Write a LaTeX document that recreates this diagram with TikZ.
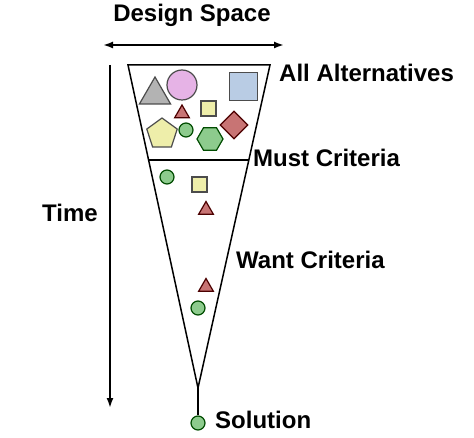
\documentclass[tikz,border=0pt]{standalone}
\usepackage{fontspec}
\setmainfont{Liberation Sans}
\usetikzlibrary{shapes.geometric,arrows.meta}
\definecolor{altgray}{HTML}{B3B3B3}
\definecolor{altpink}{HTML}{E6B3E6}
\definecolor{altblue}{HTML}{B9CCE4}
\definecolor{altred}{HTML}{C87474}
\definecolor{altyellow}{HTML}{EEEEAA}
\definecolor{altgreen}{HTML}{8DCB8D}
\tikzset{
  lbl/.style={font=\bfseries\fontsize{24}{28}\selectfont, inner sep=0pt},
  alt/.style={draw=black!70, line width=1.2pt, inner sep=0pt},
  grn/.style={alt, circle, fill=altgreen, draw=green!30!black, minimum size=14pt},
  red/.style={alt, regular polygon, regular polygon sides=3, fill=altred, draw=red!30!black, minimum size=17pt},
  ylw/.style={alt, rectangle, fill=altyellow, minimum size=15pt}
}
\begin{document}
\begin{tikzpicture}[x=1pt, y=-1pt, >={Latex[length=10pt,width=7pt]}]
  \useasboundingbox (0,0) rectangle (474,438);
  \node[lbl](ds)at(192,15){Design Space};
  \coordinate(dsl)at(103,45);
  \coordinate(dsr)at(284,45);
  \draw[<->, line width=1.8pt](dsl)--(dsr);
  \coordinate(tt)at(110,65);
  \coordinate(tb)at(110,408);
  \draw[->, line width=1.8pt](tt)--(tb);
  \node[lbl](time)at(70,213){Time};
  \coordinate(tl)at(128,65);
  \coordinate(tr)at(270,65);
  \coordinate(ap)at(198,388);
  \coordinate(ml)at(148.6,160);
  \coordinate(mr)at(249.2,160);
  \draw[line width=1.5pt](tl)--(tr)--(ap)--cycle;
  \draw[line width=1.5pt](ml)--(mr);
  \node[lbl, anchor=west](all)at(279,73){All Alternatives};
  \node[lbl, anchor=west](must)at(253,158){Must Criteria};
  \node[lbl, anchor=west](want)at(236,260){Want Criteria};
  \node[lbl, anchor=west](solt)at(215,420){Solution};
  \node[alt, regular polygon, regular polygon sides=3, fill=altgray, minimum size=36pt](a1)at(155,95){};
  \node[alt, circle, fill=altpink, minimum size=30pt](a2)at(182,85){};
  \node[alt, rectangle, fill=altblue, minimum size=28pt](a3)at(243.5,86.5){};
  \node[red](a4)at(182,113.5){};
  \node[ylw](a5)at(208.5,108.5){};
  \node[alt, regular polygon, regular polygon sides=5, fill=altyellow, minimum size=32pt](a6)at(162,134){};
  \node[grn](a7)at(186,130){};
  \node[alt, regular polygon, regular polygon sides=6, fill=altgreen, draw=green!30!black, minimum size=26pt](a8)at(210,139){};
  \node[alt, diamond, fill=altred, draw=red!30!black, minimum width=28pt, minimum height=28pt](a9)at(234,125){};
  \node[grn](m1)at(167,177){};
  \node[ylw](m2)at(199.5,184.5){};
  \node[red](m3)at(206,210){};
  \node[red](w1)at(206,287){};
  \node[grn](w2)at(198,308){};
  \node[grn](sol)at(198,423){};
  \draw[line width=1.2pt](ap)--(sol);
\end{tikzpicture}
\end{document}
